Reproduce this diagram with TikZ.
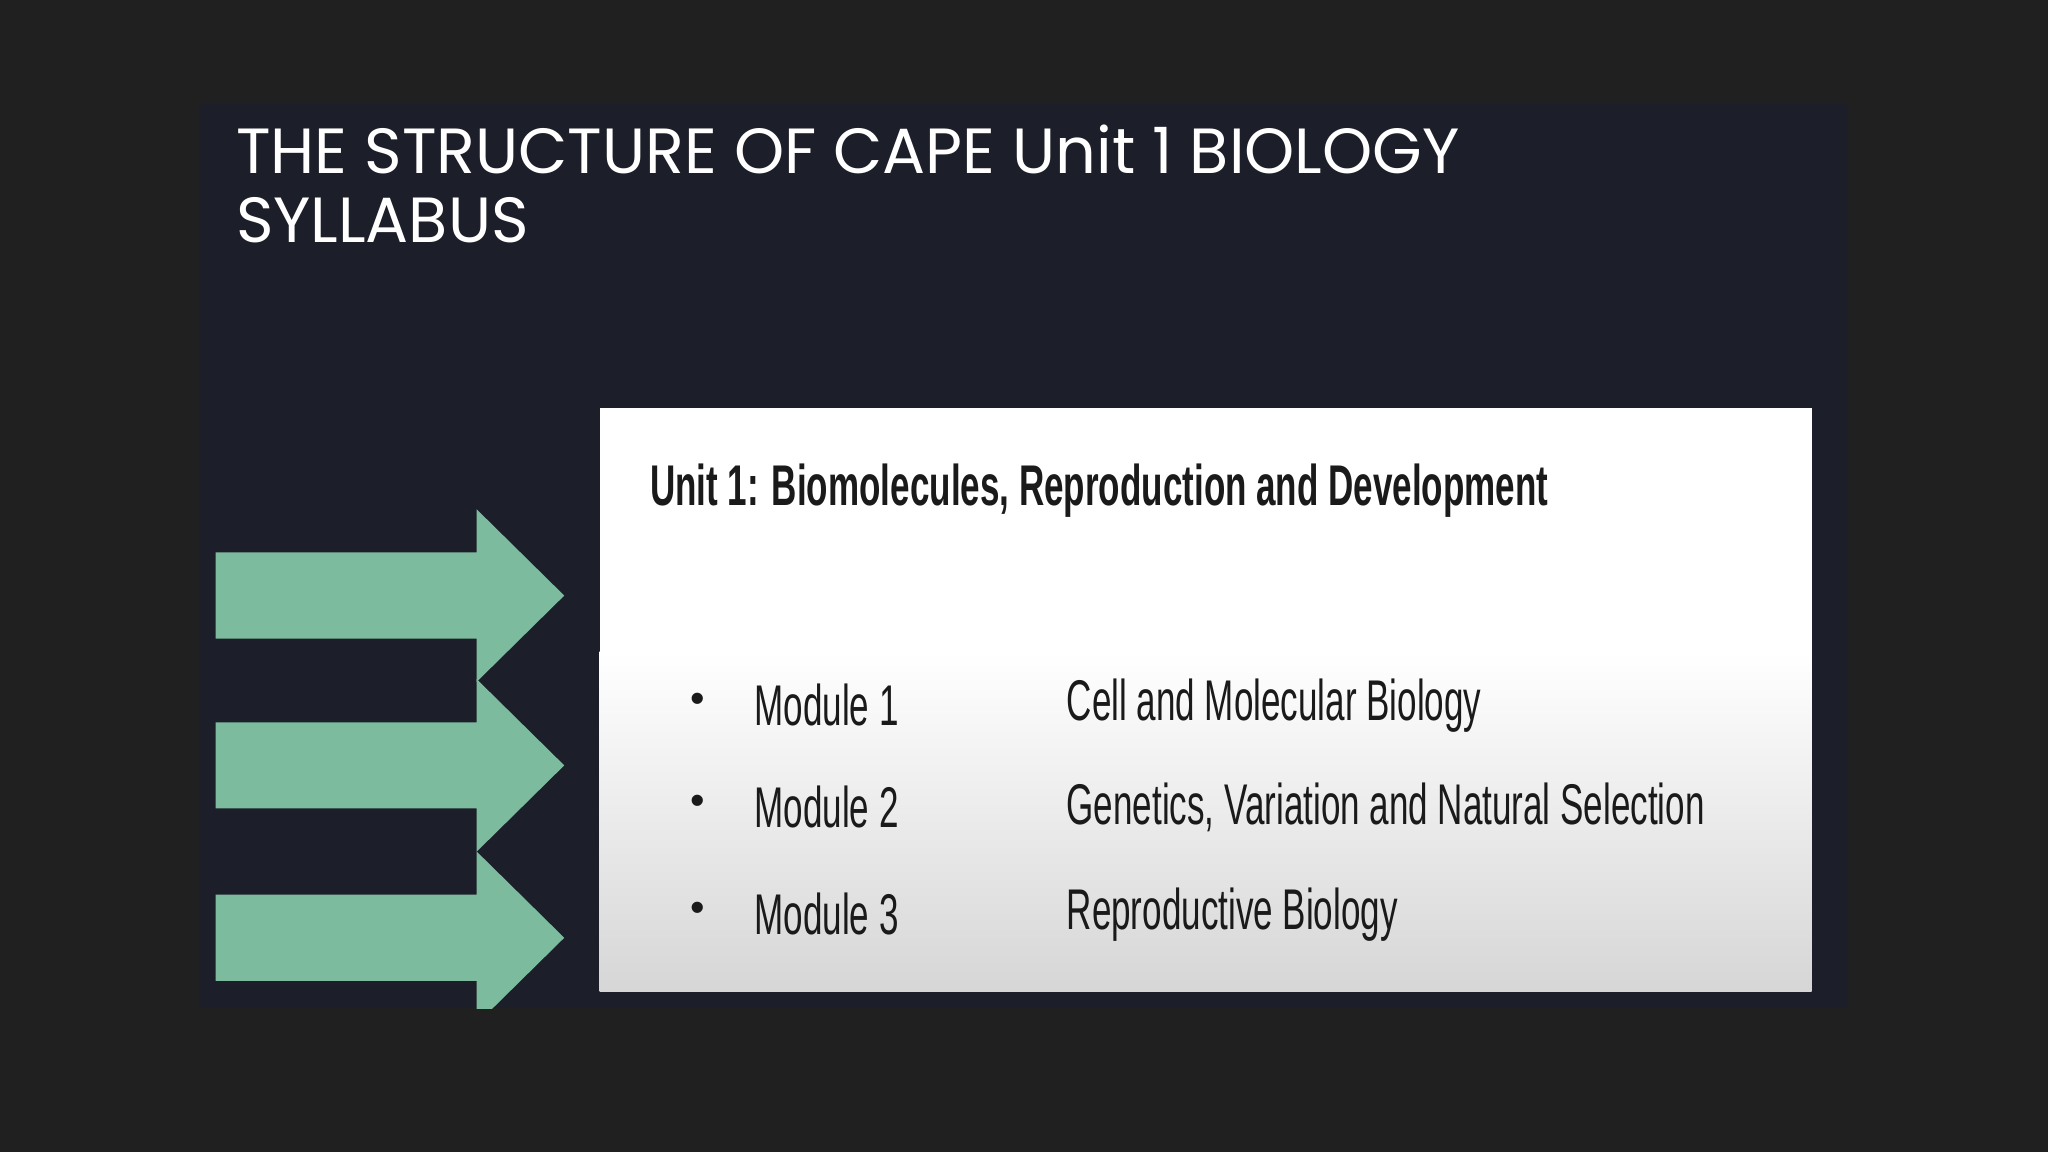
\documentclass[tikz,border=0pt]{standalone}
\usepackage{fontspec}
\setmainfont{Liberation Sans}
\newfontfamily\titlefont{Poppins}
\newfontfamily\narrow[FakeStretch=0.61]{Liberation Sans}
\definecolor{outerbg}{HTML}{202020}
\definecolor{slidebg}{HTML}{1C1F29}
\definecolor{arrowgreen}{HTML}{7DBB9F}
\definecolor{boxgray}{HTML}{D6D6D6}
\definecolor{txt}{HTML}{1A1A1A}
\tikzset{
  greenarrow/.style={fill=arrowgreen, draw=none},
  item/.style={anchor=west, inner sep=0pt, text=txt, font=\narrow\fontsize{12.5}{14}\selectfont},
}
\begin{document}
\begin{tikzpicture}[x=0.01cm,y=-0.01cm]
\fill[outerbg] (0,0) rectangle (1568,882);
\useasboundingbox (0,0) rectangle (1568,882);
\fill[slidebg] (152,80) rectangle (1415,772);
\node[anchor=west, text=white, inner sep=0pt, font=\titlefont\fontsize{13.9}{15}\selectfont, align=left] (title) at (180,141) {THE STRUCTURE OF CAPE Unit 1 BIOLOGY\\SYLLABUS};
% white box
\fill[white] (459,312) rectangle (1387,500);
\shade[top color=white, bottom color=boxgray] (459,499) rectangle (1387,759);
\node[coordinate] (box) at (459,312) {};
\node[item, font=\narrow\bfseries\fontsize{12.5}{14}\selectfont] (hdr) at (497,376) {Unit 1: Biomolecules, Reproduction and Development};
\foreach \y/\m/\d [count=\i] in {540/1/Cell and Molecular Biology, 618/2/{Genetics, Variation and Natural Selection}, 700/3/Reproductive Biology}{
  \node[item, font=\fontsize{9}{10}\selectfont] (b\i) at (528,\y-2) {\textbullet};
  \node[item] (m\i) at (577,\y) {Module \m};
  \node[item] (d\i) at (816,\y) {\d};
}
% arrows
\begin{scope}
\clip (152,80) rectangle (1415,772);
\foreach \c [count=\i] in {456,586,718}{
  \fill[greenarrow] (165,\c-33) -- (365,\c-33) -- (365,\c-66) -- (432,\c) -- (365,\c+66) -- (365,\c+33) -- (165,\c+33) -- cycle;
}
\end{scope}
\end{tikzpicture}
\end{document}
